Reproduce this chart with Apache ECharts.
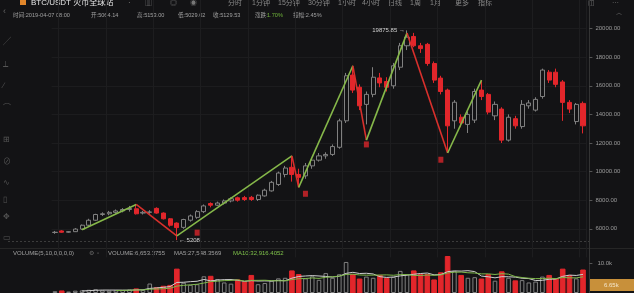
<!DOCTYPE html>
<html><head><meta charset="utf-8">
<script src="https://cdn.jsdelivr.net/npm/echarts@6/dist/echarts.min.js"></script>
<style>html,body{margin:0;padding:0;background:#131315;}#c{width:634px;height:293px;}</style>
</head><body><div id="c"></div>
<script>
// ---- data ----
const opens = [5740,5850,5760,5800,5980,6250,6600,7000,7050,7150,
7250,7350,7400,7100,7150,7430,7100,6700,6400,6100,
6600,6800,7200,7770,7650,7800,7950,8170,8180,8200,
8050,8300,8650,9100,9800,10300,9800,9700,10400,10800,
11100,11200,11700,13550,16750,15900,14700,15400,16550,16300,
16000,17300,18800,19450,18800,18900,17560,16540,15700,13550,
13800,13300,13600,15700,15400,13900,14370,12200,13700,13150,
14600,14300,15250,16950,16950,16270,14840,13500,14770];
const closes = [5760,5760,5800,5980,6250,6600,7000,7050,7150,7250,
7350,7420,7050,7150,7180,7100,6700,6250,6080,6650,
6900,7200,7600,7650,7800,7950,8100,8000,8050,8050,
8350,8700,9250,9900,10250,9800,9600,10400,10800,11100,
11200,11750,13550,16700,15700,14600,15400,16600,16200,15900,
17400,18800,19400,18800,18600,17560,16400,15600,13200,14850,
13400,14000,15600,15250,14160,14700,12200,13800,13200,14700,
14800,15050,17100,16400,16100,14840,14370,14700,13200];
const lows = [5650,5720,5720,5780,5930,6200,6550,6900,6950,7050,
7150,7200,7000,7000,7050,7050,6650,6150,5208,6000,
6500,6700,7100,7500,7600,7700,7850,7900,7950,7950,
7950,8250,8600,9000,9600,9300,8900,9500,10200,10700,
10900,11100,11600,13400,15500,14300,13300,15200,15900,15600,
15800,17100,18500,18700,18300,17400,16200,15400,11300,13000,
13100,12700,13400,15000,14000,13600,12000,12100,13000,13000,
14400,14200,15100,16200,15900,13550,14100,13300,12670];
const highs = [5850,5900,5840,6050,6300,6700,7050,7150,7250,7350,
7450,7600,7700,7250,7300,7500,7150,6750,6450,6700,
7000,7300,7700,7850,7900,8050,8200,8250,8300,8300,
8400,8800,9350,10000,10400,11100,10200,10600,10900,11300,
11350,11900,13700,16900,17400,16100,15600,17300,16900,16600,
17600,19000,19875.85,19700,19000,19000,17700,16700,15800,15000,
14000,14200,15800,16400,15500,14900,14500,14000,13900,15000,
15000,15200,17200,17100,17200,16400,15000,14800,14900];
const volumes = [600,700,500,800,900,1100,1300,900,800,900,
1000,1200,1400,1000,3230,1800,2300,2600,8150,3500,
2800,3000,5700,5700,4770,3600,3200,4460,3800,6000,
3000,3400,4200,5000,5200,7540,6300,5000,5700,4500,
6800,5200,6400,10600,6300,4770,5600,5200,6000,5000,
5500,7540,6400,7540,6300,6300,4460,6900,12460,7540,
6000,5200,5400,4770,6300,4200,7230,5200,4150,4400,
3600,3900,5600,6000,4800,8150,6000,5000,7850];
const pivotIdx = [4,12,18,35,36,44,46,52,58,63];
const pivotVal = [5930,7700,5500,11100,8900,17400,12200,19700,11300,16400];
const signalIdx = [21,37,46,57];
const signalVal = [5730,8450,11900,10830];
const categories = opens.map((_, i) => String(i + 1));
const priceTicks = {min: 4000, max: 22000, step: 2000};
const volTicks = {min: 0, max: 14000, step: 10000};

// ---- styles ----
const BG = '#131315', RED = '#e2262b', GREY = '#808080', GREEN = '#86b84a', LRED = '#d9302c';
const FONT = '"Liberation Sans","Noto Sans CJK SC",sans-serif';

const candleData = opens.map((o, i) => [o, closes[i], lows[i], highs[i]]);
const volData = volumes.map((v, i) => {
  const down = closes[i] < opens[i];
  return {value: v, itemStyle: down ? {color: RED, borderColor: RED} : {color: BG, borderColor: GREY, borderWidth: 1}};
});
function ma(n) {
  return volumes.map((_, i) => {
    if (i < n - 1) return '-';
    let s = 0; for (let k = i - n + 1; k <= i; k++) s += volumes[k];
    return +(s / n).toFixed(1);
  });
}
const zig = [];
for (let k = 0; k < pivotIdx.length - 1; k++) {
  const up = pivotVal[k + 1] > pivotVal[k];
  zig.push({
    type: 'line', xAxisIndex: 0, yAxisIndex: 0, symbol: 'none', silent: true, z: 5,
    lineStyle: {color: up ? GREEN : LRED, width: 1.6},
    data: [[pivotIdx[k], pivotVal[k]], [pivotIdx[k + 1], pivotVal[k + 1]]]
  });
}

const G_LEFT = 51.6, G_RIGHT = 47.6;
const txt = (x, y, s, color, size, extra) => Object.assign({type: 'text', x, y, silent: true,
  style: Object.assign({text: s, fill: color || '#9a9a9a', font: (size || 6.5) + 'px ' + FONT, textVerticalAlign: 'middle'}, extra || {})});

const graphics = [
  // frame lines
  {type: 'line', silent: true, shape: {x1: 8, y1: 241.5, x2: 589, y2: 241.5}, style: {stroke: '#3c3c3c', lineWidth: 1, lineDash: [2, 2]}},
  {type: 'line', silent: true, shape: {x1: 0, y1: 248.5, x2: 634, y2: 248.5}, style: {stroke: '#262626', lineWidth: 1}},
  // header row 1
  {type: 'rect', silent: true, shape: {x: 20, y: -2, width: 6, height: 7}, style: {fill: '#e0852a'}},
  txt(31, 3, 'BTC/USDT 火币全球站', '#e6e6e6', 8),
  txt(128, 3, '·', '#777', 8), txt(145, 3, '▥', '#777', 7), txt(170, 3, '◎', '#777', 7), txt(190, 3, '◉', '#777', 7),
  txt(228, 3, '分时', '#888', 7), txt(252, 3, '1分钟', '#888', 7), txt(278, 3, '15分钟', '#888', 7),
  txt(308, 3, '30分钟', '#888', 7), txt(338, 3, '1小时', '#888', 7), txt(362, 3, '4小时', '#888', 7),
  txt(388, 3, '日线', '#888', 7), txt(410, 3, '1周', '#888', 7), txt(430, 3, '1月', '#888', 7),
  txt(455, 3, '更多', '#888', 7), txt(478, 3, '指标', '#888', 7),
  txt(588, 3, '◫', '#777', 7), txt(612, 3, '⋯', '#777', 7), txt(616, 12, '︿', '#777', 6),
  // header row 2
  txt(13, 15, '时间:2019-04-07 08:00', '#a0a0a0', 5.6),
  txt(91, 15, '开:5064.14', '#a0a0a0', 5.6),
  txt(137, 15, '高:5153.00', '#a0a0a0', 5.6),
  txt(178, 15, '低:5029.02', '#a0a0a0', 5.6),
  txt(213, 15, '收:5129.53', '#a0a0a0', 5.6),
  txt(255, 15, '涨跌:', '#a0a0a0', 5.6), txt(267, 15, '1.70%', '#6fb43a', 5.6),
  txt(293, 15, '振幅:2.45%', '#a0a0a0', 5.6),
  // volume header
  txt(13, 253, 'VOLUME(5,10,0,0,0,0)', '#a0a0a0', 6),
  txt(89, 253, '⚙', '#666', 6), txt(97, 253, '▫', '#666', 6),
  txt(108, 253, 'VOLUME:6,653.3755', '#a0a0a0', 6),
  txt(174, 253, 'MA5:27,548.3569', '#a0a0a0', 6),
  txt(233, 253, 'MA10:32,916.4052', '#7fc24a', 6),
  // current volume tag
  {type: 'rect', silent: true, shape: {x: 590, y: 279, width: 44, height: 12}, style: {fill: '#c8903a'}},
  txt(604, 285, '6.65k', '#f4e6cc', 6),
  // left toolbar
  txt(3, 12, '‹', '#666', 9), txt(3, 42, '╱', '#555', 8), txt(3, 64, '⟂', '#555', 8),
  txt(3, 86, '∕', '#555', 8), txt(3, 108, '⌒', '#555', 8), txt(3, 140, '⊞', '#555', 8),
  txt(3, 162, '⊘', '#555', 8), txt(3, 183, '∿', '#555', 8), txt(3, 200, '▯', '#555', 8),
  txt(3, 217, '✥', '#555', 8), txt(3, 238, '▭', '#555', 8)
];

const chart = echarts.init(document.getElementById('c'), null, {renderer: 'canvas'});
chart.setOption({
  backgroundColor: BG,
  animation: false,
  graphic: graphics,
  grid: [
    {left: G_LEFT, right: G_RIGHT, top: -7.4, height: 264.8},
    {left: G_LEFT, right: G_RIGHT, top: 252, height: 45.5}
  ],
  xAxis: [
    {type: 'category', data: categories, gridIndex: 0, boundaryGap: true,
     axisLine: {show: false}, axisTick: {show: false}, axisLabel: {show: false},
     splitLine: {show: true, interval: (i) => i % 7 === 1, lineStyle: {color: '#1d1d1f', width: 1}}},
    {type: 'category', data: categories, gridIndex: 1, boundaryGap: true,
     axisLine: {show: false}, axisTick: {show: false}, axisLabel: {show: false}, splitLine: {show: false}}
  ],
  yAxis: [
    {type: 'value', gridIndex: 0, position: 'right', offset: 3, scale: false,
     min: priceTicks.min, max: priceTicks.max, interval: priceTicks.step,
     axisLine: {show: true, lineStyle: {color: '#343434'}},
     axisTick: {show: true, length: 3, lineStyle: {color: '#555'}},
     axisLabel: {color: '#9a9a9a', fontSize: 6, margin: 6, fontFamily: FONT, showMinLabel: false, showMaxLabel: false,
       formatter: (v) => v.toFixed(2)},
     splitLine: {show: true, lineStyle: {color: ['transparent', '#1c1c1e', '#1c1c1e', '#1c1c1e', '#1c1c1e', '#1c1c1e', '#1c1c1e', '#1c1c1e', '#1c1c1e', 'transparent']}}},
    {type: 'value', gridIndex: 1, position: 'right', offset: 3,
     min: volTicks.min, max: volTicks.max, interval: volTicks.step,
     axisLine: {show: true, lineStyle: {color: '#343434'}},
     axisTick: {show: true, length: 3, lineStyle: {color: '#555'}},
     axisLabel: {color: '#9a9a9a', fontSize: 6, margin: 8, fontFamily: FONT, showMinLabel: false, showMaxLabel: false,
       formatter: (v) => (v / 1000).toFixed(1) + 'k'},
     splitLine: {show: false}}
  ],
  series: [
    {type: 'candlestick', xAxisIndex: 0, yAxisIndex: 0, data: candleData, barWidth: 4.6, z: 3,
     itemStyle: {color: BG, color0: RED, borderColor: GREY, borderColor0: RED, borderWidth: 1},
     markPoint: {symbol: 'circle', symbolSize: 0.1, silent: true,
       data: [
         {type: 'max', valueDim: 'highest', label: {show: true, position: 'left', distance: 2, color: '#d0d0d0', fontSize: 6, fontFamily: FONT,
           formatter: (p) => Number(p.value).toFixed(2) + ' →'}},
         {type: 'min', valueDim: 'lowest', label: {show: true, position: 'right', distance: 2, color: '#d0d0d0', fontSize: 6, fontFamily: FONT,
           formatter: (p) => '← ' + p.value}}
       ]}},
    ...zig,
    {type: 'scatter', xAxisIndex: 0, yAxisIndex: 0, symbol: 'rect', symbolSize: [5, 6], z: 6, silent: true,
     itemStyle: {color: '#d8262a'}, data: signalIdx.map((x, k) => [x, signalVal[k]])},
    {type: 'bar', xAxisIndex: 1, yAxisIndex: 1, data: volData, barWidth: 4.6, silent: true},
    {type: 'line', xAxisIndex: 1, yAxisIndex: 1, data: ma(5), symbol: 'none', silent: true,
     lineStyle: {color: '#cfcfcf', width: 1}},
    {type: 'line', xAxisIndex: 1, yAxisIndex: 1, data: ma(10), symbol: 'none', silent: true,
     lineStyle: {color: '#7fb84a', width: 1}}
  ]
});
</script></body></html>
